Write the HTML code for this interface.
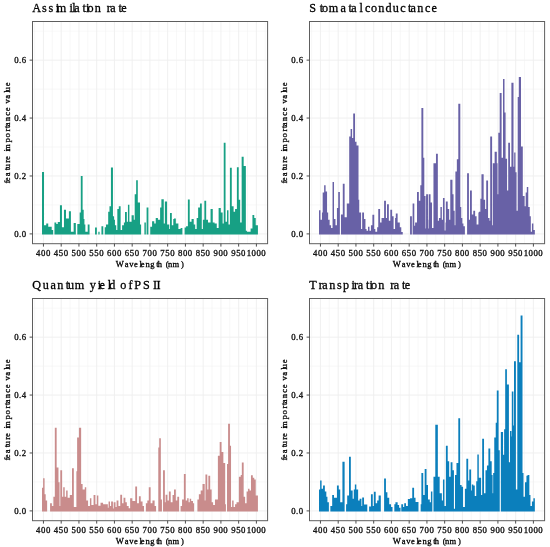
<!DOCTYPE html>
<html lang="en"><head><meta charset="utf-8"><title>Feature importance by wavelength</title>
<style>html,body{margin:0;padding:0;background:#fff}svg{display:block;font-family:"Liberation Serif",serif;fill:#1a1a1a}.gm{stroke:#eeeeee;stroke-width:.9}.gn{stroke:#f3f3f3;stroke-width:.55}.bd{fill:none;stroke:#5e5e5e;stroke-width:1}.tk{stroke:#444;stroke-width:.95}.ax{fill:#111;stroke:#111;stroke-width:.35px}.tt{fill:#000;stroke:#000;stroke-width:.3px}.ti{fill:#000;stroke:#000;stroke-width:.3px}</style></head><body>
<svg width="550" height="547" viewBox="0 0 550 547">
<rect width="550" height="547" fill="#fff"/>
<g transform="translate(0,0)">
<line class="gm" x1="32.50" x2="267.60" y1="233.90" y2="233.90"/><line class="gn" x1="32.50" x2="267.60" y1="204.94" y2="204.94"/><line class="gm" x1="32.50" x2="267.60" y1="175.98" y2="175.98"/><line class="gn" x1="32.50" x2="267.60" y1="147.02" y2="147.02"/><line class="gm" x1="32.50" x2="267.60" y1="118.06" y2="118.06"/><line class="gn" x1="32.50" x2="267.60" y1="89.10" y2="89.10"/><line class="gm" x1="32.50" x2="267.60" y1="60.14" y2="60.14"/><line class="gn" x1="32.50" x2="267.60" y1="31.18" y2="31.18"/><line class="gn" x1="34.58" x2="34.58" y1="21.50" y2="243.70"/><line class="gm" x1="43.45" x2="43.45" y1="21.50" y2="243.70"/><line class="gn" x1="52.32" x2="52.32" y1="21.50" y2="243.70"/><line class="gm" x1="61.20" x2="61.20" y1="21.50" y2="243.70"/><line class="gn" x1="70.07" x2="70.07" y1="21.50" y2="243.70"/><line class="gm" x1="78.94" x2="78.94" y1="21.50" y2="243.70"/><line class="gn" x1="87.81" x2="87.81" y1="21.50" y2="243.70"/><line class="gm" x1="96.69" x2="96.69" y1="21.50" y2="243.70"/><line class="gn" x1="105.56" x2="105.56" y1="21.50" y2="243.70"/><line class="gm" x1="114.43" x2="114.43" y1="21.50" y2="243.70"/><line class="gn" x1="123.31" x2="123.31" y1="21.50" y2="243.70"/><line class="gm" x1="132.18" x2="132.18" y1="21.50" y2="243.70"/><line class="gn" x1="141.05" x2="141.05" y1="21.50" y2="243.70"/><line class="gm" x1="149.93" x2="149.93" y1="21.50" y2="243.70"/><line class="gn" x1="158.80" x2="158.80" y1="21.50" y2="243.70"/><line class="gm" x1="167.67" x2="167.67" y1="21.50" y2="243.70"/><line class="gn" x1="176.54" x2="176.54" y1="21.50" y2="243.70"/><line class="gm" x1="185.42" x2="185.42" y1="21.50" y2="243.70"/><line class="gn" x1="194.29" x2="194.29" y1="21.50" y2="243.70"/><line class="gm" x1="203.16" x2="203.16" y1="21.50" y2="243.70"/><line class="gn" x1="212.04" x2="212.04" y1="21.50" y2="243.70"/><line class="gm" x1="220.91" x2="220.91" y1="21.50" y2="243.70"/><line class="gn" x1="229.78" x2="229.78" y1="21.50" y2="243.70"/><line class="gm" x1="238.65" x2="238.65" y1="21.50" y2="243.70"/><line class="gn" x1="247.53" x2="247.53" y1="21.50" y2="243.70"/><line class="gm" x1="256.40" x2="256.40" y1="21.50" y2="243.70"/><line class="gn" x1="265.27" x2="265.27" y1="21.50" y2="243.70"/>
<path fill="#17A084" d="M42.02 234.40V171.97H44.03V225.36H46.23V223.53H48.24V226.82H51.71V229.93H53.17V234.40ZM54.45 234.40V222.61H56.28V223.89H57.74V222.07H59.94V205.25H61.95V227.18H63.96V209.82H65.97V218.41H66.34V218.41H68.71V218.41H68.90V211.28H70.91V231.75H73.47V231.75H73.65V222.98H75.84V234.40ZM77.31 234.40V223.89H79.68V212.56H80.78V176.00H82.61V209.82H83.70V218.96H84.44V224.44H85.35V231.75H87.54V231.75H87.73V224.44H89.55V234.40ZM95.04 234.40V227.55H96.87V234.40ZM98.33 234.40V231.75H99.61V234.40ZM101.44 234.40V226.27H103.27V234.40ZM104.73 234.40V227.18H106.00V224.44H106.01V224.44H108.19V211.64H109.47V206.16H110.94V167.40H112.95V216.22H114.04V219.87H114.96V225.36H116.24V229.93H117.33V208.90H118.80V206.16H120.63V229.93H122.09V225.36H123.92V222.61H125.01V212.01H126.84V221.70H127.94V204.70H129.40V221.70H131.59V215.30H133.79V219.87H134.70V194.28H136.16V180.20H137.81V202.50H140.00V224.44H141.10V234.40ZM144.39 234.40V222.61H145.85V234.40ZM146.59 234.40V207.62H148.41V234.40ZM150.24 234.40V226.82H152.07V221.15H154.26V223.53H155.73V218.04H157.92V219.87H160.11V207.44H161.39V199.21H163.77V223.53H164.87V201.59H167.06V224.44H169.25V229.01H169.99V213.11H171.81V225.36H173.28V218.96H174.00V218.41H174.01V218.41H175.83V223.53H178.39V229.01H180.22V229.01H180.58V228.10H182.41V234.40ZM184.60 234.40V227.55H186.07V226.27H187.89V199.40H189.72V221.70H191.55V218.96H193.74V224.44H195.21V229.01H196.67V218.04H198.13V207.44H199.96V203.42H201.79V229.01H202.88V219.87H204.35V200.68H206.18V219.87H208.00V222.61H210.56V208.90H212.76V222.61H214.59V223.53H216.78V228.10H218.61V207.99H220.80V212.56H222.63V223.53H223.73V142.72H225.55V221.70H227.02V210.37H228.48V224.44H229.94V167.77H231.77V206.16H233.60V211.64H235.06V208.90H236.89V167.22H238.72V199.76H240.18V222.61H241.65V156.80H241.82V156.80H243.66V165.94H245.85V230.84H246.95V231.75H250.61V228.46H252.44V214.94H254.26V218.04H255.73V225.36H257.92V234.40Z"/>
<rect class="bd" x="32.50" y="21.50" width="235.10" height="222.20"/>
<line class="tk" x1="43.45" x2="43.45" y1="243.70" y2="246.60"/><line class="tk" x1="61.20" x2="61.20" y1="243.70" y2="246.60"/><line class="tk" x1="78.94" x2="78.94" y1="243.70" y2="246.60"/><line class="tk" x1="96.69" x2="96.69" y1="243.70" y2="246.60"/><line class="tk" x1="114.43" x2="114.43" y1="243.70" y2="246.60"/><line class="tk" x1="132.18" x2="132.18" y1="243.70" y2="246.60"/><line class="tk" x1="149.93" x2="149.93" y1="243.70" y2="246.60"/><line class="tk" x1="167.67" x2="167.67" y1="243.70" y2="246.60"/><line class="tk" x1="185.42" x2="185.42" y1="243.70" y2="246.60"/><line class="tk" x1="203.16" x2="203.16" y1="243.70" y2="246.60"/><line class="tk" x1="220.91" x2="220.91" y1="243.70" y2="246.60"/><line class="tk" x1="238.65" x2="238.65" y1="243.70" y2="246.60"/><line class="tk" x1="256.40" x2="256.40" y1="243.70" y2="246.60"/><line class="tk" x1="29.60" x2="32.50" y1="233.90" y2="233.90"/><line class="tk" x1="29.60" x2="32.50" y1="175.98" y2="175.98"/><line class="tk" x1="29.60" x2="32.50" y1="118.06" y2="118.06"/><line class="tk" x1="29.60" x2="32.50" y1="60.14" y2="60.14"/>
<text x="37.24 42.29 47.33" y="255.90" font-size="9.00" transform="scale(0.97,1)" class="ax">400</text>
<text x="55.54 60.58 65.63" y="255.90" font-size="9.00" transform="scale(0.97,1)" class="ax">450</text>
<text x="73.83 78.88 83.92" y="255.90" font-size="9.00" transform="scale(0.97,1)" class="ax">500</text>
<text x="92.13 97.17 102.22" y="255.90" font-size="9.00" transform="scale(0.97,1)" class="ax">550</text>
<text x="110.42 115.47 120.51" y="255.90" font-size="9.00" transform="scale(0.97,1)" class="ax">600</text>
<text x="128.72 133.76 138.81" y="255.90" font-size="9.00" transform="scale(0.97,1)" class="ax">650</text>
<text x="147.01 152.06 157.10" y="255.90" font-size="9.00" transform="scale(0.97,1)" class="ax">700</text>
<text x="165.31 170.35 175.40" y="255.90" font-size="9.00" transform="scale(0.97,1)" class="ax">750</text>
<text x="183.60 188.65 193.69" y="255.90" font-size="9.00" transform="scale(0.97,1)" class="ax">800</text>
<text x="201.90 206.94 211.99" y="255.90" font-size="9.00" transform="scale(0.97,1)" class="ax">850</text>
<text x="220.19 225.24 230.28" y="255.90" font-size="9.00" transform="scale(0.97,1)" class="ax">900</text>
<text x="238.48 243.53 248.58" y="255.90" font-size="9.00" transform="scale(0.97,1)" class="ax">950</text>
<text x="254.26 259.30 264.35 269.39" y="255.90" font-size="9.00" transform="scale(0.97,1)" class="ax">1000</text>
<text x="14.83 19.49 22.40" y="236.90" font-size="9.00" transform="scale(0.97,1)" class="ax">0.0</text>
<text x="14.83 19.49 22.40" y="178.98" font-size="9.00" transform="scale(0.97,1)" class="ax">0.2</text>
<text x="14.83 19.49 22.40" y="121.06" font-size="9.00" transform="scale(0.97,1)" class="ax">0.4</text>
<text x="14.83 19.49 22.40" y="63.14" font-size="9.00" transform="scale(0.97,1)" class="ax">0.6</text>
<text x="33.54 43.80 50.57 58.05 59.12 72.34 75.35 77.30 85.89 89.65 91.25 98.78 107.90 111.13 114.94 123.52 126.23" y="12.50" font-size="12.70" transform="scale(0.96,1)" class="ti">Assimilation rate</text>
<text x="120.57 129.85 134.70 139.53 145.37 146.67 151.52 156.62 162.70 164.26 170.47 172.65 174.96 179.68 188.43" y="267.50" font-size="8.90" transform="scale(0.96,1)" class="tt">Wavelength (nm)</text>
<text x="-191.15 -188.94 -183.52 -177.35 -175.64 -169.47 -166.72 -160.43 -157.84 -157.18 -148.55 -143.13 -136.96 -133.46 -131.50 -126.33 -120.66 -115.78 -109.49 -107.90 -102.77 -96.61 -95.44 -89.76" y="10.50" font-size="9.00" transform="rotate(-90) scale(0.96,1)" class="tt">feature importance value</text>
</g>
<g transform="translate(277,0)">
<line class="gm" x1="32.50" x2="267.60" y1="233.90" y2="233.90"/><line class="gn" x1="32.50" x2="267.60" y1="204.94" y2="204.94"/><line class="gm" x1="32.50" x2="267.60" y1="175.98" y2="175.98"/><line class="gn" x1="32.50" x2="267.60" y1="147.02" y2="147.02"/><line class="gm" x1="32.50" x2="267.60" y1="118.06" y2="118.06"/><line class="gn" x1="32.50" x2="267.60" y1="89.10" y2="89.10"/><line class="gm" x1="32.50" x2="267.60" y1="60.14" y2="60.14"/><line class="gn" x1="32.50" x2="267.60" y1="31.18" y2="31.18"/><line class="gn" x1="34.58" x2="34.58" y1="21.50" y2="243.70"/><line class="gm" x1="43.45" x2="43.45" y1="21.50" y2="243.70"/><line class="gn" x1="52.32" x2="52.32" y1="21.50" y2="243.70"/><line class="gm" x1="61.20" x2="61.20" y1="21.50" y2="243.70"/><line class="gn" x1="70.07" x2="70.07" y1="21.50" y2="243.70"/><line class="gm" x1="78.94" x2="78.94" y1="21.50" y2="243.70"/><line class="gn" x1="87.81" x2="87.81" y1="21.50" y2="243.70"/><line class="gm" x1="96.69" x2="96.69" y1="21.50" y2="243.70"/><line class="gn" x1="105.56" x2="105.56" y1="21.50" y2="243.70"/><line class="gm" x1="114.43" x2="114.43" y1="21.50" y2="243.70"/><line class="gn" x1="123.31" x2="123.31" y1="21.50" y2="243.70"/><line class="gm" x1="132.18" x2="132.18" y1="21.50" y2="243.70"/><line class="gn" x1="141.05" x2="141.05" y1="21.50" y2="243.70"/><line class="gm" x1="149.93" x2="149.93" y1="21.50" y2="243.70"/><line class="gn" x1="158.80" x2="158.80" y1="21.50" y2="243.70"/><line class="gm" x1="167.67" x2="167.67" y1="21.50" y2="243.70"/><line class="gn" x1="176.54" x2="176.54" y1="21.50" y2="243.70"/><line class="gm" x1="185.42" x2="185.42" y1="21.50" y2="243.70"/><line class="gn" x1="194.29" x2="194.29" y1="21.50" y2="243.70"/><line class="gm" x1="203.16" x2="203.16" y1="21.50" y2="243.70"/><line class="gn" x1="212.04" x2="212.04" y1="21.50" y2="243.70"/><line class="gm" x1="220.91" x2="220.91" y1="21.50" y2="243.70"/><line class="gn" x1="229.78" x2="229.78" y1="21.50" y2="243.70"/><line class="gm" x1="238.65" x2="238.65" y1="21.50" y2="243.70"/><line class="gn" x1="247.53" x2="247.53" y1="21.50" y2="243.70"/><line class="gm" x1="256.40" x2="256.40" y1="21.50" y2="243.70"/><line class="gn" x1="265.27" x2="265.27" y1="21.50" y2="243.70"/>
<path fill="#6861A6" d="M42.02 234.40V210.37H43.48V219.87H44.95V212.56H45.68V192.45H46.04V192.45H47.14V185.14H48.60V191.54H50.07V212.56H51.16V219.87H52.63V225.36H54.09V228.10H55.55V182.03H57.01V218.96H58.48V225.36H59.94V207.99H61.22V192.08H62.86V234.40ZM63.96 234.40V214.39H65.79V183.86H67.62V217.13H69.81V203.42H72.20V136.40H72.37V136.40H73.60V128.90H75.10V137.90H76.20V113.40H78.00V141.70H79.50V145.40H81.50V145.40H81.51V199.76H82.24V212.56H84.07V229.01H85.17V212.56H86.99V218.96H88.46V229.01H89.55V230.84H91.02V226.82H92.48V230.84H93.94V225.36H95.40V214.75H97.23V229.01H98.33V231.75H100.16V227.18H101.25V208.90H103.08V222.61H104.54V218.04H106.00V218.04H106.01V218.04H107.10V200.68H108.93V218.04H110.02V204.33H111.85V220.79H113.31V209.82H115.14V216.22H116.60V229.01H118.07V218.04H118.80V213.47H120.63V222.61H122.82V227.18H124.28V232.12H125.74V234.40ZM133.06 234.40V216.22H134.88V234.40ZM135.62 234.40V203.42H137.30V225.80H137.44V225.80H138.10V222.61H140.00V192.08H141.83V200.68H143.29V185.14H144.39V185.14H144.40V107.90H146.22V107.90H146.30V157.71H147.32V196.11H148.55V228.40H149.05V196.11H149.14V194.28H150.97V219.87H151.10V228.40H151.60V219.87H151.70V194.28H153.53V202.50H154.99V228.10H156.46V163.20H159.02V153.69H160.84V220.79H161.94V218.04H163.40V207.07H164.87V219.87H165.96V197.93H167.60V230.40H167.79V230.40H168.50V222.61H168.89V201.59H170.72V208.90H172.18V219.87H173.28V179.65H174.37V179.65H174.74V179.65H175.46V194.28H176.56V210.73H177.66V225.36H178.39V171.43H179.85V159.18H181.30V103.80H181.31V103.80H183.14V103.80H183.30V207.07H184.24V218.04H185.33V223.53H186.43V226.27H187.89V234.40ZM190.09 234.40V173.25H191.92V219.87H193.01V190.62H194.84V214.39H196.30V210.73H198.13V216.22H199.59V224.44H201.42V212.56H201.90V211.64H202.88V211.64H203.37V198.85H204.46V174.17H206.66V199.76H208.12V208.90H209.22V180.57H211.04V218.04H212.51V220.79H213.20V136.40H213.24V136.40H215.07V136.40H215.10V225.36H215.80V163.20H217.63V151.86H219.82V163.20H220.55V194.28H221.28V194.28H221.30V132.70H222.70V93.00H224.57V93.00H224.60V157.71H226.00V79.10H226.03V79.10H227.50V112.60H228.59V112.60H228.60V158.63H230.06V190.62H231.15V190.62H231.20V142.70H232.98V142.70H233.00V166.86H234.40V82.80H234.44V82.80H236.46V82.80H236.50V166.86H237.19V152.60H238.47V172.34H239.56V210.73H240.66V210.73H240.70V97.00H241.80V76.90H244.00V146.40H245.80V196.11H246.14V196.11H247.61V206.16H248.70V192.45H249.80V186.96H251.26V207.07H252.73V216.22H253.82V231.75H254.92V223.53H256.38V229.93H257.84V234.40Z"/>
<rect class="bd" x="32.50" y="21.50" width="235.10" height="222.20"/>
<line class="tk" x1="43.45" x2="43.45" y1="243.70" y2="246.60"/><line class="tk" x1="61.20" x2="61.20" y1="243.70" y2="246.60"/><line class="tk" x1="78.94" x2="78.94" y1="243.70" y2="246.60"/><line class="tk" x1="96.69" x2="96.69" y1="243.70" y2="246.60"/><line class="tk" x1="114.43" x2="114.43" y1="243.70" y2="246.60"/><line class="tk" x1="132.18" x2="132.18" y1="243.70" y2="246.60"/><line class="tk" x1="149.93" x2="149.93" y1="243.70" y2="246.60"/><line class="tk" x1="167.67" x2="167.67" y1="243.70" y2="246.60"/><line class="tk" x1="185.42" x2="185.42" y1="243.70" y2="246.60"/><line class="tk" x1="203.16" x2="203.16" y1="243.70" y2="246.60"/><line class="tk" x1="220.91" x2="220.91" y1="243.70" y2="246.60"/><line class="tk" x1="238.65" x2="238.65" y1="243.70" y2="246.60"/><line class="tk" x1="256.40" x2="256.40" y1="243.70" y2="246.60"/><line class="tk" x1="29.60" x2="32.50" y1="233.90" y2="233.90"/><line class="tk" x1="29.60" x2="32.50" y1="175.98" y2="175.98"/><line class="tk" x1="29.60" x2="32.50" y1="118.06" y2="118.06"/><line class="tk" x1="29.60" x2="32.50" y1="60.14" y2="60.14"/>
<text x="37.24 42.29 47.33" y="255.90" font-size="9.00" transform="scale(0.97,1)" class="ax">400</text>
<text x="55.54 60.58 65.63" y="255.90" font-size="9.00" transform="scale(0.97,1)" class="ax">450</text>
<text x="73.83 78.88 83.92" y="255.90" font-size="9.00" transform="scale(0.97,1)" class="ax">500</text>
<text x="92.13 97.17 102.22" y="255.90" font-size="9.00" transform="scale(0.97,1)" class="ax">550</text>
<text x="110.42 115.47 120.51" y="255.90" font-size="9.00" transform="scale(0.97,1)" class="ax">600</text>
<text x="128.72 133.76 138.81" y="255.90" font-size="9.00" transform="scale(0.97,1)" class="ax">650</text>
<text x="147.01 152.06 157.10" y="255.90" font-size="9.00" transform="scale(0.97,1)" class="ax">700</text>
<text x="165.31 170.35 175.40" y="255.90" font-size="9.00" transform="scale(0.97,1)" class="ax">750</text>
<text x="183.60 188.65 193.69" y="255.90" font-size="9.00" transform="scale(0.97,1)" class="ax">800</text>
<text x="201.90 206.94 211.99" y="255.90" font-size="9.00" transform="scale(0.97,1)" class="ax">850</text>
<text x="220.19 225.24 230.28" y="255.90" font-size="9.00" transform="scale(0.97,1)" class="ax">900</text>
<text x="238.48 243.53 248.58" y="255.90" font-size="9.00" transform="scale(0.97,1)" class="ax">950</text>
<text x="254.26 259.30 264.35 269.39" y="255.90" font-size="9.00" transform="scale(0.97,1)" class="ax">1000</text>
<text x="14.83 19.49 22.40" y="236.90" font-size="9.00" transform="scale(0.97,1)" class="ax">0.0</text>
<text x="14.83 19.49 22.40" y="178.98" font-size="9.00" transform="scale(0.97,1)" class="ax">0.2</text>
<text x="14.83 19.49 22.40" y="121.06" font-size="9.00" transform="scale(0.97,1)" class="ax">0.4</text>
<text x="14.83 19.49 22.40" y="63.14" font-size="9.00" transform="scale(0.97,1)" class="ax">0.6</text>
<text x="33.71 44.51 46.86 53.87 66.03 74.61 77.32 85.91 89.09 91.62 98.04 105.57 113.10 120.63 128.52 136.34 139.05 146.23 154.11 160.89" y="12.50" font-size="12.70" transform="scale(0.96,1)" class="ti">Stomatal conductance</text>
<text x="120.57 129.85 134.70 139.53 145.37 146.67 151.52 156.62 162.70 164.26 170.47 172.65 174.96 179.68 188.43" y="267.50" font-size="8.90" transform="scale(0.96,1)" class="tt">Wavelength (nm)</text>
<text x="-191.15 -188.94 -183.52 -177.35 -175.64 -169.47 -166.72 -160.43 -157.84 -157.18 -148.55 -143.13 -136.96 -133.46 -131.50 -126.33 -120.66 -115.78 -109.49 -107.90 -102.77 -96.61 -95.44 -89.76" y="10.50" font-size="9.00" transform="rotate(-90) scale(0.96,1)" class="tt">feature importance value</text>
</g>
<g transform="translate(0,277)">
<line class="gm" x1="32.50" x2="267.60" y1="233.90" y2="233.90"/><line class="gn" x1="32.50" x2="267.60" y1="204.94" y2="204.94"/><line class="gm" x1="32.50" x2="267.60" y1="175.98" y2="175.98"/><line class="gn" x1="32.50" x2="267.60" y1="147.02" y2="147.02"/><line class="gm" x1="32.50" x2="267.60" y1="118.06" y2="118.06"/><line class="gn" x1="32.50" x2="267.60" y1="89.10" y2="89.10"/><line class="gm" x1="32.50" x2="267.60" y1="60.14" y2="60.14"/><line class="gn" x1="32.50" x2="267.60" y1="31.18" y2="31.18"/><line class="gn" x1="34.58" x2="34.58" y1="21.50" y2="243.70"/><line class="gm" x1="43.45" x2="43.45" y1="21.50" y2="243.70"/><line class="gn" x1="52.32" x2="52.32" y1="21.50" y2="243.70"/><line class="gm" x1="61.20" x2="61.20" y1="21.50" y2="243.70"/><line class="gn" x1="70.07" x2="70.07" y1="21.50" y2="243.70"/><line class="gm" x1="78.94" x2="78.94" y1="21.50" y2="243.70"/><line class="gn" x1="87.81" x2="87.81" y1="21.50" y2="243.70"/><line class="gm" x1="96.69" x2="96.69" y1="21.50" y2="243.70"/><line class="gn" x1="105.56" x2="105.56" y1="21.50" y2="243.70"/><line class="gm" x1="114.43" x2="114.43" y1="21.50" y2="243.70"/><line class="gn" x1="123.31" x2="123.31" y1="21.50" y2="243.70"/><line class="gm" x1="132.18" x2="132.18" y1="21.50" y2="243.70"/><line class="gn" x1="141.05" x2="141.05" y1="21.50" y2="243.70"/><line class="gm" x1="149.93" x2="149.93" y1="21.50" y2="243.70"/><line class="gn" x1="158.80" x2="158.80" y1="21.50" y2="243.70"/><line class="gm" x1="167.67" x2="167.67" y1="21.50" y2="243.70"/><line class="gn" x1="176.54" x2="176.54" y1="21.50" y2="243.70"/><line class="gm" x1="185.42" x2="185.42" y1="21.50" y2="243.70"/><line class="gn" x1="194.29" x2="194.29" y1="21.50" y2="243.70"/><line class="gm" x1="203.16" x2="203.16" y1="21.50" y2="243.70"/><line class="gn" x1="212.04" x2="212.04" y1="21.50" y2="243.70"/><line class="gm" x1="220.91" x2="220.91" y1="21.50" y2="243.70"/><line class="gn" x1="229.78" x2="229.78" y1="21.50" y2="243.70"/><line class="gm" x1="238.65" x2="238.65" y1="21.50" y2="243.70"/><line class="gn" x1="247.53" x2="247.53" y1="21.50" y2="243.70"/><line class="gm" x1="256.40" x2="256.40" y1="21.50" y2="243.70"/><line class="gn" x1="265.27" x2="265.27" y1="21.50" y2="243.70"/>
<path fill="#C98C8C" d="M42.02 234.40V210.73H43.12V201.22H44.58V217.13H45.68V223.53H47.14V234.40ZM50.07 234.40V226.27H51.89V229.01H53.36V219.87H54.82V150.77H56.65V190.62H58.48V205.25H59.57V229.01H60.30V193.36H62.13V219.87H63.23V210.37H64.69V219.87H66.15V213.47H67.62V220.79H69.81V218.04H72.00V191.17H73.83V229.93H76.39V194.28H77.12V160.46H78.95V150.77H81.14V207.07H82.61V212.56H84.80V210.37H86.26V223.53H88.09V229.01H89.92V221.33H91.38V228.10H93.58V218.04H95.40V227.18H96.87V218.41H98.33V228.65H100.52V225.72H103.08V227.18H106.00V227.18H106.01V227.18H107.83V230.84H108.56V224.44H110.02V229.01H111.12V224.44H112.95V231.39H113.68V225.36H115.51V229.93H116.60V223.53H118.43V229.01H120.26V217.68H122.09V226.27H123.55V220.79H125.38V225.36H126.84V229.01H128.67V231.21H130.13V221.33H132.33V223.89H135.25V209.45H137.08V226.27H138.91V219.32H140.73V224.44H142.56V229.01H144.03V234.40ZM145.85 234.40V226.27H147.32V223.53H148.78V210.37H150.61V226.27H152.44V223.53H154.63V229.01H156.09V234.40ZM158.29 234.40V170.51H159.20V161.37H160.84V222.61H161.94V234.40ZM163.04 234.40V193.36H164.87V225.36H165.60V217.68H167.43V223.53H168.89V214.39H170.72V225.36H172.54V218.04H174.00V212.56H174.01V212.56H175.83V223.53H177.29V219.87H179.12V234.40ZM180.58 234.40V229.01H182.04V222.61H183.87V197.02H185.70V223.53H187.16V221.33H188.63V225.36H189.72V221.70H191.18V223.89H193.01V226.27H194.11V234.40ZM197.40 234.40V222.61H198.86V217.13H200.69V213.47H202.52V207.07H204.71V223.53H205.44V197.57H207.27V212.56H208.37V198.85H210.20V212.56H211.66V225.36H213.12V228.10H214.95V222.61H217.88V178.74H219.70V165.03H221.53V175.08H223.36V186.05H225.19V227.18H225.92V234.40ZM227.02 234.40V186.96H228.11V146.75H229.94V168.68H231.04V229.93H232.14V223.53H233.60V229.93H235.06V227.18H236.52V225.36H238.72V225.36H238.91V199.76H240.73V197.93H241.83V185.50H243.66V219.87H245.12V226.27H246.59V214.39H248.05V211.64H249.51V213.47H250.97V198.30H252.80V200.68H254.26V202.50H255.73V218.41H257.92V234.40Z"/>
<rect class="bd" x="32.50" y="21.50" width="235.10" height="222.20"/>
<line class="tk" x1="43.45" x2="43.45" y1="243.70" y2="246.60"/><line class="tk" x1="61.20" x2="61.20" y1="243.70" y2="246.60"/><line class="tk" x1="78.94" x2="78.94" y1="243.70" y2="246.60"/><line class="tk" x1="96.69" x2="96.69" y1="243.70" y2="246.60"/><line class="tk" x1="114.43" x2="114.43" y1="243.70" y2="246.60"/><line class="tk" x1="132.18" x2="132.18" y1="243.70" y2="246.60"/><line class="tk" x1="149.93" x2="149.93" y1="243.70" y2="246.60"/><line class="tk" x1="167.67" x2="167.67" y1="243.70" y2="246.60"/><line class="tk" x1="185.42" x2="185.42" y1="243.70" y2="246.60"/><line class="tk" x1="203.16" x2="203.16" y1="243.70" y2="246.60"/><line class="tk" x1="220.91" x2="220.91" y1="243.70" y2="246.60"/><line class="tk" x1="238.65" x2="238.65" y1="243.70" y2="246.60"/><line class="tk" x1="256.40" x2="256.40" y1="243.70" y2="246.60"/><line class="tk" x1="29.60" x2="32.50" y1="233.90" y2="233.90"/><line class="tk" x1="29.60" x2="32.50" y1="175.98" y2="175.98"/><line class="tk" x1="29.60" x2="32.50" y1="118.06" y2="118.06"/><line class="tk" x1="29.60" x2="32.50" y1="60.14" y2="60.14"/>
<text x="37.24 42.29 47.33" y="255.90" font-size="9.00" transform="scale(0.97,1)" class="ax">400</text>
<text x="55.54 60.58 65.63" y="255.90" font-size="9.00" transform="scale(0.97,1)" class="ax">450</text>
<text x="73.83 78.88 83.92" y="255.90" font-size="9.00" transform="scale(0.97,1)" class="ax">500</text>
<text x="92.13 97.17 102.22" y="255.90" font-size="9.00" transform="scale(0.97,1)" class="ax">550</text>
<text x="110.42 115.47 120.51" y="255.90" font-size="9.00" transform="scale(0.97,1)" class="ax">600</text>
<text x="128.72 133.76 138.81" y="255.90" font-size="9.00" transform="scale(0.97,1)" class="ax">650</text>
<text x="147.01 152.06 157.10" y="255.90" font-size="9.00" transform="scale(0.97,1)" class="ax">700</text>
<text x="165.31 170.35 175.40" y="255.90" font-size="9.00" transform="scale(0.97,1)" class="ax">750</text>
<text x="183.60 188.65 193.69" y="255.90" font-size="9.00" transform="scale(0.97,1)" class="ax">800</text>
<text x="201.90 206.94 211.99" y="255.90" font-size="9.00" transform="scale(0.97,1)" class="ax">850</text>
<text x="220.19 225.24 230.28" y="255.90" font-size="9.00" transform="scale(0.97,1)" class="ax">900</text>
<text x="238.48 243.53 248.58" y="255.90" font-size="9.00" transform="scale(0.97,1)" class="ax">950</text>
<text x="254.26 259.30 264.35 269.39" y="255.90" font-size="9.00" transform="scale(0.97,1)" class="ax">1000</text>
<text x="14.83 19.49 22.40" y="236.90" font-size="9.00" transform="scale(0.97,1)" class="ax">0.0</text>
<text x="14.83 19.49 22.40" y="178.98" font-size="9.00" transform="scale(0.97,1)" class="ax">0.2</text>
<text x="14.83 19.49 22.40" y="121.06" font-size="9.00" transform="scale(0.97,1)" class="ax">0.4</text>
<text x="14.83 19.49 22.40" y="63.14" font-size="9.00" transform="scale(0.97,1)" class="ax">0.6</text>
<text x="33.54 44.60 52.49 59.66 68.60 70.95 77.96 91.35 93.53 101.71 103.66 112.25 113.85 122.97 125.14 133.73 138.02 139.84 148.87 159.32 163.08" y="12.50" font-size="12.70" transform="scale(0.96,1)" class="ti">Quantum yield of PSII</text>
<text x="120.57 129.85 134.70 139.53 145.37 146.67 151.52 156.62 162.70 164.26 170.47 172.65 174.96 179.68 188.43" y="267.50" font-size="8.90" transform="scale(0.96,1)" class="tt">Wavelength (nm)</text>
<text x="-191.15 -188.94 -183.52 -177.35 -175.64 -169.47 -166.72 -160.43 -157.84 -157.18 -148.55 -143.13 -136.96 -133.46 -131.50 -126.33 -120.66 -115.78 -109.49 -107.90 -102.77 -96.61 -95.44 -89.76" y="10.50" font-size="9.00" transform="rotate(-90) scale(0.96,1)" class="tt">feature importance value</text>
</g>
<g transform="translate(277,277)">
<line class="gm" x1="32.50" x2="267.60" y1="233.90" y2="233.90"/><line class="gn" x1="32.50" x2="267.60" y1="204.94" y2="204.94"/><line class="gm" x1="32.50" x2="267.60" y1="175.98" y2="175.98"/><line class="gn" x1="32.50" x2="267.60" y1="147.02" y2="147.02"/><line class="gm" x1="32.50" x2="267.60" y1="118.06" y2="118.06"/><line class="gn" x1="32.50" x2="267.60" y1="89.10" y2="89.10"/><line class="gm" x1="32.50" x2="267.60" y1="60.14" y2="60.14"/><line class="gn" x1="32.50" x2="267.60" y1="31.18" y2="31.18"/><line class="gn" x1="34.58" x2="34.58" y1="21.50" y2="243.70"/><line class="gm" x1="43.45" x2="43.45" y1="21.50" y2="243.70"/><line class="gn" x1="52.32" x2="52.32" y1="21.50" y2="243.70"/><line class="gm" x1="61.20" x2="61.20" y1="21.50" y2="243.70"/><line class="gn" x1="70.07" x2="70.07" y1="21.50" y2="243.70"/><line class="gm" x1="78.94" x2="78.94" y1="21.50" y2="243.70"/><line class="gn" x1="87.81" x2="87.81" y1="21.50" y2="243.70"/><line class="gm" x1="96.69" x2="96.69" y1="21.50" y2="243.70"/><line class="gn" x1="105.56" x2="105.56" y1="21.50" y2="243.70"/><line class="gm" x1="114.43" x2="114.43" y1="21.50" y2="243.70"/><line class="gn" x1="123.31" x2="123.31" y1="21.50" y2="243.70"/><line class="gm" x1="132.18" x2="132.18" y1="21.50" y2="243.70"/><line class="gn" x1="141.05" x2="141.05" y1="21.50" y2="243.70"/><line class="gm" x1="149.93" x2="149.93" y1="21.50" y2="243.70"/><line class="gn" x1="158.80" x2="158.80" y1="21.50" y2="243.70"/><line class="gm" x1="167.67" x2="167.67" y1="21.50" y2="243.70"/><line class="gn" x1="176.54" x2="176.54" y1="21.50" y2="243.70"/><line class="gm" x1="185.42" x2="185.42" y1="21.50" y2="243.70"/><line class="gn" x1="194.29" x2="194.29" y1="21.50" y2="243.70"/><line class="gm" x1="203.16" x2="203.16" y1="21.50" y2="243.70"/><line class="gn" x1="212.04" x2="212.04" y1="21.50" y2="243.70"/><line class="gm" x1="220.91" x2="220.91" y1="21.50" y2="243.70"/><line class="gn" x1="229.78" x2="229.78" y1="21.50" y2="243.70"/><line class="gm" x1="238.65" x2="238.65" y1="21.50" y2="243.70"/><line class="gn" x1="247.53" x2="247.53" y1="21.50" y2="243.70"/><line class="gm" x1="256.40" x2="256.40" y1="21.50" y2="243.70"/><line class="gn" x1="265.27" x2="265.27" y1="21.50" y2="243.70"/>
<path fill="#0B7FBC" d="M42.02 234.40V212.56H43.12V203.42H44.58V211.64H46.04V208.54H47.87V214.39H49.33V219.87H50.43V225.36H51.89V234.40ZM53.36 234.40V229.01H55.18V218.04H57.01V220.79H59.94V208.54H61.77V212.56H63.23V225.36H65.42V184.77H67.62V234.40ZM69.08 234.40V227.18H70.18V218.41H72.00V179.65H73.83V213.47H75.66V221.70H76.76V212.56H77.85V207.44H79.32V212.56H81.14V223.53H82.61V221.70H84.44V229.01H85.17V220.42H86.99V227.55H90.29V234.40ZM92.11 234.40V229.38H93.94V217.13H95.77V229.01H96.87V214.75H98.69V226.27H100.16V223.53H101.62V218.41H103.81V234.40ZM107.10 234.40V201.59H108.93V215.30H110.39V220.79H112.22V227.18H114.04V229.93H115.51V234.40ZM117.33 234.40V227.18H118.43V225.36H120.63V228.10H122.09V230.84H123.55V234.40ZM124.28 234.40V227.18H126.11V229.93H127.21V226.27H129.03V229.01H130.86V222.07H133.06V221.15H135.25V210.73H137.08V220.79H138.54V224.99H141.47V234.40ZM143.66 234.40V227.18H144.39V196.11H146.22V218.04H147.68V192.08H149.51V207.99H150.97V222.61H152.80V225.36H153.90V214.39H155.36V234.40ZM156.46 234.40V199.76H158.29V147.66H160.84V199.76H162.67V216.22H164.87V223.53H165.96V202.50H167.43V229.01H168.89V168.68H170.72V184.22H172.18V199.76H173.64V185.14H175.46V185.14H175.47V193.36H176.93V231.75H178.02V197.93H179.48V186.05H181.31V141.26H183.14V207.99H184.60V209.82H186.07V229.93H187.89V211.64H189.36V181.85H191.18V203.42H192.28V192.45H194.11V213.47H194.84V207.44H196.30V208.54H197.77V218.96H199.23V204.33H200.33V177.46H201.79V200.68H203.00V200.68H203.62V200.68H204.10V218.04H205.19V161.74H207.02V216.22H208.48V193.36H209.95V188.43H211.41V171.43H213.24V184.22H214.70V197.93H215.61V216.22H216.16V196.11H217.26V160.46H218.72V145.83H219.80V113.50H219.82V113.50H221.60V173.25H221.65V173.25H222.74V234.40ZM223.84 234.40V154.97H226.03V177.82H227.13V152.23H228.20V92.20H228.23V92.20H229.90V107.50H231.88V107.50H231.90V185.14H232.98V154.06H234.44V159.54H234.80V114.50H234.99V114.50H236.40V148.40H237.00V84.30H238.90V212.60H240.30V57.80H242.10V85.20H243.60V38.50H245.50V196.11H245.60V196.11H246.51V219.87H247.97V205.25H249.44V198.85H250.53V197.93H252.36V218.04H253.46V229.01H254.92V224.44H256.38V221.33H257.84V234.40Z"/>
<rect class="bd" x="32.50" y="21.50" width="235.10" height="222.20"/>
<line class="tk" x1="43.45" x2="43.45" y1="243.70" y2="246.60"/><line class="tk" x1="61.20" x2="61.20" y1="243.70" y2="246.60"/><line class="tk" x1="78.94" x2="78.94" y1="243.70" y2="246.60"/><line class="tk" x1="96.69" x2="96.69" y1="243.70" y2="246.60"/><line class="tk" x1="114.43" x2="114.43" y1="243.70" y2="246.60"/><line class="tk" x1="132.18" x2="132.18" y1="243.70" y2="246.60"/><line class="tk" x1="149.93" x2="149.93" y1="243.70" y2="246.60"/><line class="tk" x1="167.67" x2="167.67" y1="243.70" y2="246.60"/><line class="tk" x1="185.42" x2="185.42" y1="243.70" y2="246.60"/><line class="tk" x1="203.16" x2="203.16" y1="243.70" y2="246.60"/><line class="tk" x1="220.91" x2="220.91" y1="243.70" y2="246.60"/><line class="tk" x1="238.65" x2="238.65" y1="243.70" y2="246.60"/><line class="tk" x1="256.40" x2="256.40" y1="243.70" y2="246.60"/><line class="tk" x1="29.60" x2="32.50" y1="233.90" y2="233.90"/><line class="tk" x1="29.60" x2="32.50" y1="175.98" y2="175.98"/><line class="tk" x1="29.60" x2="32.50" y1="118.06" y2="118.06"/><line class="tk" x1="29.60" x2="32.50" y1="60.14" y2="60.14"/>
<text x="37.24 42.29 47.33" y="255.90" font-size="9.00" transform="scale(0.97,1)" class="ax">400</text>
<text x="55.54 60.58 65.63" y="255.90" font-size="9.00" transform="scale(0.97,1)" class="ax">450</text>
<text x="73.83 78.88 83.92" y="255.90" font-size="9.00" transform="scale(0.97,1)" class="ax">500</text>
<text x="92.13 97.17 102.22" y="255.90" font-size="9.00" transform="scale(0.97,1)" class="ax">550</text>
<text x="110.42 115.47 120.51" y="255.90" font-size="9.00" transform="scale(0.97,1)" class="ax">600</text>
<text x="128.72 133.76 138.81" y="255.90" font-size="9.00" transform="scale(0.97,1)" class="ax">650</text>
<text x="147.01 152.06 157.10" y="255.90" font-size="9.00" transform="scale(0.97,1)" class="ax">700</text>
<text x="165.31 170.35 175.40" y="255.90" font-size="9.00" transform="scale(0.97,1)" class="ax">750</text>
<text x="183.60 188.65 193.69" y="255.90" font-size="9.00" transform="scale(0.97,1)" class="ax">800</text>
<text x="201.90 206.94 211.99" y="255.90" font-size="9.00" transform="scale(0.97,1)" class="ax">850</text>
<text x="220.19 225.24 230.28" y="255.90" font-size="9.00" transform="scale(0.97,1)" class="ax">900</text>
<text x="238.48 243.53 248.58" y="255.90" font-size="9.00" transform="scale(0.97,1)" class="ax">950</text>
<text x="254.26 259.30 264.35 269.39" y="255.90" font-size="9.00" transform="scale(0.97,1)" class="ax">1000</text>
<text x="14.83 19.49 22.40" y="236.90" font-size="9.00" transform="scale(0.97,1)" class="ax">0.0</text>
<text x="14.83 19.49 22.40" y="178.98" font-size="9.00" transform="scale(0.97,1)" class="ax">0.2</text>
<text x="14.83 19.49 22.40" y="121.06" font-size="9.00" transform="scale(0.97,1)" class="ax">0.4</text>
<text x="14.83 19.49 22.40" y="63.14" font-size="9.00" transform="scale(0.97,1)" class="ax">0.6</text>
<text x="33.54 43.40 47.20 54.38 62.61 68.68 77.62 80.28 84.09 92.67 96.43 98.03 105.56 114.68 117.92 121.72 130.31 133.02" y="12.50" font-size="12.70" transform="scale(0.96,1)" class="ti">Transpiration rate</text>
<text x="120.57 129.85 134.70 139.53 145.37 146.67 151.52 156.62 162.70 164.26 170.47 172.65 174.96 179.68 188.43" y="267.50" font-size="8.90" transform="scale(0.96,1)" class="tt">Wavelength (nm)</text>
<text x="-191.15 -188.94 -183.52 -177.35 -175.64 -169.47 -166.72 -160.43 -157.84 -157.18 -148.55 -143.13 -136.96 -133.46 -131.50 -126.33 -120.66 -115.78 -109.49 -107.90 -102.77 -96.61 -95.44 -89.76" y="10.50" font-size="9.00" transform="rotate(-90) scale(0.96,1)" class="tt">feature importance value</text>
</g>
</svg></body></html>
